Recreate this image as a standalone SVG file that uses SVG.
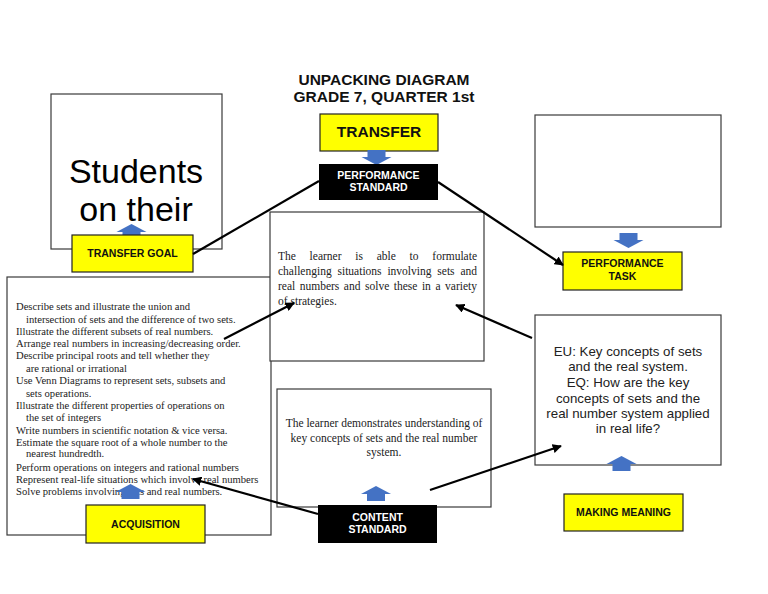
<svg xmlns="http://www.w3.org/2000/svg" width="768" height="594" viewBox="0 0 768 594">
<style>
.box{fill:#fff;stroke:#3a3a3a;stroke-width:1.2}
.yel{fill:#ffff00;stroke:#222;stroke-width:1.2}
.blk{fill:#000}
.lbl{font-family:"Liberation Sans",Arial,sans-serif;font-weight:bold;font-size:10.5px;text-anchor:middle;fill:#111}
.wlbl{font-family:"Liberation Sans",Arial,sans-serif;font-weight:bold;font-size:10.5px;text-anchor:middle;fill:#fff}
.ttl{font-family:"Liberation Sans",Arial,sans-serif;font-weight:bold;font-size:15.5px;text-anchor:middle;fill:#111}
.ser{font-family:"Liberation Serif","Times New Roman",serif;font-size:10.6px;fill:#222}
.ser11{font-family:"Liberation Serif","Times New Roman",serif;font-size:11.5px;fill:#222}
.ari{font-family:"Liberation Sans",Arial,sans-serif;font-size:13.3px;text-anchor:middle;fill:#222}
.big{font-family:"Liberation Sans",Arial,sans-serif;font-size:34px;text-anchor:middle;fill:#000}
.blue{fill:#4472c4}
.con{stroke:#000;stroke-width:2.2;fill:none}
</style>
<defs>
<marker id="ah" viewBox="0 0 10 10" refX="9" refY="5" markerWidth="4.2" markerHeight="4.2" orient="auto" markerUnits="strokeWidth">
<path d="M0,0 L10,5 L0,10 z" fill="#000"/>
</marker>
<polygon id="down" points="-9,0 9,0 9,7 15,7 0,15 -15,7 -9,7"/>
<polygon id="up" points="-9,15 9,15 9,8 15,8 0,0 -15,8 -9,8"/>
</defs>
<rect width="768" height="594" fill="#fff"/>

<g id="title">
<text class="ttl" x="384" y="85">UNPACKING DIAGRAM</text>
<text class="ttl" x="384" y="101.5">GRADE 7, QUARTER 1st</text>
</g>

<g id="transfer">
<rect class="yel" x="320" y="114" width="118" height="37"/>
<text class="ttl" x="379" y="137">TRANSFER</text>
<use href="#down" class="blue" x="376.5" y="150"/>
</g>

<g id="performance-standard">
<rect class="blk" x="319" y="164" width="119" height="36"/>
<text class="wlbl" x="378.5" y="178.5">PERFORMANCE</text>
<text class="wlbl" x="378.5" y="190.5">STANDARD</text>
</g>

<g id="students-box">
<rect class="box" x="51" y="94" width="171" height="155"/>
<text class="big" x="136" y="183">Students</text>
<text class="big" x="136" y="221">on their</text>
</g>

<g id="transfer-goal">
<use href="#up" class="blue" x="131.5" y="224"/>
<rect class="yel" x="72" y="235" width="121" height="37"/>
<text class="lbl" x="132.5" y="257">TRANSFER GOAL</text>
</g>

<g id="acquisition-box">
<rect class="box" x="7" y="277" width="264" height="258"/>
<g class="ser">
<text x="16" y="310">Describe sets and illustrate the union and</text>
<text x="26" y="322.5">intersection of sets and the difference of two sets.</text>
<text x="16" y="335">Illustrate the different subsets of real numbers.</text>
<text x="16" y="347">Arrange real numbers in increasing/decreasing order.</text>
<text x="16" y="359">Describe principal roots and tell whether they</text>
<text x="26" y="371.5">are rational or irrational</text>
<text x="16" y="384">Use Venn Diagrams to represent sets, subsets and</text>
<text x="26" y="396.5">sets operations.</text>
<text x="16" y="409">Illustrate the different properties of operations on</text>
<text x="26" y="421">the set of integers</text>
<text x="16" y="433.5">Write numbers in scientific notation &amp; vice versa.</text>
<text x="16" y="445.5">Estimate the square root of a whole number to the</text>
<text x="26" y="457">nearest hundredth.</text>
<text x="16" y="470.5">Perform operations on integers and rational numbers</text>
<text x="16" y="482.5">Represent real-life situations which involve real numbers</text>
<text x="16" y="495">Solve problems involving sets and real numbers.</text>
</g>
</g>

<g id="acquisition">
<use href="#up" class="blue" x="130.5" y="484"/>
<rect class="yel" x="86" y="505" width="119" height="38"/>
<text class="lbl" x="145.5" y="528">ACQUISITION</text>
</g>

<g id="performance-standard-box">
<rect class="box" x="270" y="212" width="214" height="149"/>
<g class="ser11">
<text y="260"><tspan x="278">The</tspan><tspan x="309.6">learner</tspan><tspan x="355.3">is</tspan><tspan x="376.7">able</tspan><tspan x="409.6">to</tspan></text>
<text y="260" x="477" text-anchor="end">formulate</text>
<text y="275"><tspan x="278">challenging</tspan><tspan x="337.5">situations</tspan><tspan x="387.4">involving</tspan><tspan x="437.3">sets</tspan></text>
<text y="275" x="477" text-anchor="end">and</text>
<text y="290"><tspan x="278">real</tspan><tspan x="299.7">numbers</tspan><tspan x="343.8">and</tspan><tspan x="365">solve</tspan><tspan x="393.8">these</tspan><tspan x="421.9">in</tspan><tspan x="435.4">a</tspan></text>
<text y="290" x="477" text-anchor="end">variety</text>
<text x="278" y="305">of strategies.</text>
</g>
</g>

<g id="content-standard-box">
<rect class="box" x="277" y="389" width="214" height="118"/>
<g class="ser11" text-anchor="middle">
<text x="384" y="427">The learner demonstrates understanding of</text>
<text x="384" y="442">key concepts of sets and the real number</text>
<text x="384" y="456">system.</text>
</g>
<use href="#up" class="blue" x="376" y="486"/>
</g>

<g id="content-standard">
<rect class="blk" x="318" y="505" width="119" height="38"/>
<text class="wlbl" x="377.5" y="520.5">CONTENT</text>
<text class="wlbl" x="377.5" y="533">STANDARD</text>
</g>

<g id="task-box">
<rect class="box" x="535" y="115" width="186" height="112"/>
<use href="#down" class="blue" x="628.5" y="233"/>
</g>

<g id="performance-task">
<rect class="yel" x="563" y="252" width="119" height="38"/>
<text class="lbl" x="622.5" y="267">PERFORMANCE</text>
<text class="lbl" x="622.5" y="279.5">TASK</text>
</g>

<g id="meaning-box">
<rect class="box" x="535" y="315" width="186" height="150"/>
<g class="ari">
<text x="628" y="355.5">EU: Key concepts of sets</text>
<text x="628" y="371">and the real system.</text>
<text x="628" y="386.5">EQ: How are the key</text>
<text x="628" y="402.5">concepts of sets and the</text>
<text x="628" y="418">real number system applied</text>
<text x="628" y="433">in real life?</text>
</g>
<use href="#up" class="blue" x="621.5" y="456"/>
</g>

<g id="making-meaning">
<rect class="yel" x="564" y="494" width="119" height="37"/>
<text class="lbl" x="623.5" y="516">MAKING MEANING</text>
</g>

<g id="connectors">
<line class="con" x1="193" y1="254" x2="319" y2="181"/>
<line class="con" x1="438" y1="182" x2="563" y2="265" marker-end="url(#ah)"/>
<line class="con" x1="224" y1="339" x2="294" y2="303" marker-end="url(#ah)"/>
<line class="con" x1="532" y1="338" x2="456" y2="305" marker-end="url(#ah)"/>
<line class="con" x1="430" y1="490" x2="561" y2="446" marker-end="url(#ah)"/>
<line class="con" x1="318" y1="514" x2="193" y2="479" marker-end="url(#ah)"/>
</g>
</svg>
